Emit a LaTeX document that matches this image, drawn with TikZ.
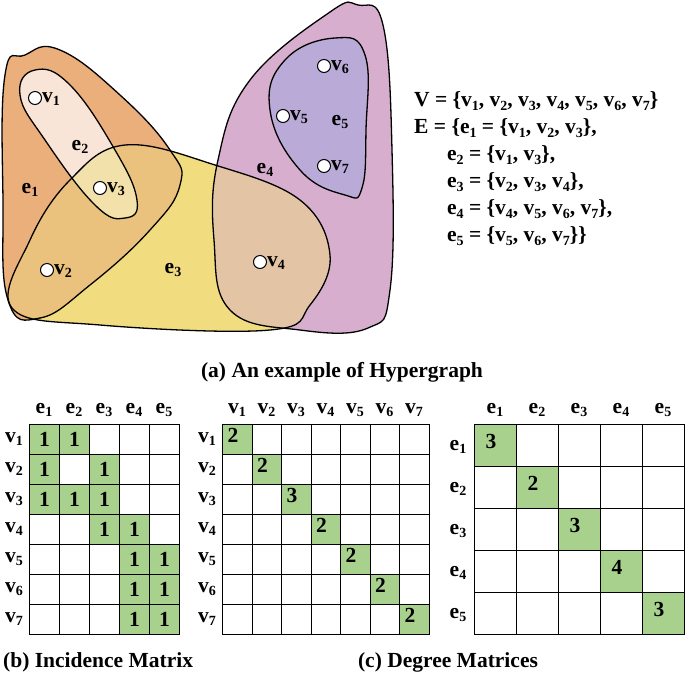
\documentclass[tikz,border=0pt]{standalone}
\usepackage{fontspec}
\setmainfont{Liberation Serif}
\newcommand\lo[1]{\raisebox{-0.35ex}{\fontsize{14}{14}\selectfont #1}}
\definecolor{cgreen}{HTML}{A9D18E}
\definecolor{cone}{HTML}{EBAF7B}
\definecolor{ctwo}{HTML}{F9E5D8}
\definecolor{cthree}{HTML}{F1DC80}
\definecolor{cfour}{HTML}{D8AECF}
\definecolor{cfive}{HTML}{B9AAD8}
\definecolor{conethree}{HTML}{EBC27D}
\definecolor{ctwothree}{HTML}{F2E1AA}
\definecolor{cthreefour}{HTML}{E3C5A6}
\begin{document}
\begin{tikzpicture}[x=1pt,y=-1pt,font=\bfseries\fontsize{21.5}{22}\selectfont,
  vert/.style={circle,draw,fill=white,line width=1pt,inner sep=0pt,minimum size=13pt},
  lbl/.style={inner sep=1pt},
  edgeline/.style={draw,line width=1.3pt},
  cell/.style={draw,line width=1.2pt,minimum width=30pt,minimum height=30pt,inner sep=0pt,anchor=north west},
  bcell/.style={draw,line width=1.2pt,minimum width=42pt,minimum height=42pt,inner sep=0pt,anchor=north west}]
\useasboundingbox (0,0) rectangle (685,673);
\def\eone{plot[smooth cycle,tension=0.75] coordinates{(25,55)(60,50)(120,95)(170,150)(180,185)(150,230)(90,285)(40,318)(8,300)(3,200)(5,75)}}
\def\etwo{plot[smooth cycle,tension=0.75] coordinates{(35,70)(70,85)(115,150)(137,200)(125,218)(95,205)(45,140)(20,95)}}
\def\ethree{plot[smooth cycle,tension=0.65] coordinates{(125,145)(215,165)(300,200)(330,255)(310,305)(270,330)(100,325)(12,308)(30,240)(70,180)}}
\def\efour{plot[smooth cycle,tension=0.7] coordinates{(358,5)(383,25)(392,150)(390,290)(368,328)(300,330)(230,310)(214,240)(218,160)(250,80)(330,12)}}
\def\efive{plot[smooth cycle,tension=0.75] coordinates{(335,38)(365,55)(366,130)(362,188)(345,195)(300,170)(270,110)(285,60)}}
\fill[cfour] \efour;
\fill[cone] \eone;
\fill[cthree] \ethree;
\fill[ctwo] \etwo;
\begin{scope}\clip \eone; \fill[conethree] \ethree;\end{scope}
\begin{scope}\clip \etwo; \fill[ctwothree] \ethree;\end{scope}
\begin{scope}\clip \efour; \fill[cthreefour] \ethree;\end{scope}
\fill[cfive] \efive;
\draw[edgeline] \eone; \draw[edgeline] \etwo; \draw[edgeline] \ethree; \draw[edgeline] \efour; \draw[edgeline] \efive;
\foreach \n/\x/\y in {1/35/98,2/47/270,3/100/188,4/260/262,5/283/116,6/324/66,7/324/166}{
  \node[vert] (v\n) at (\x,\y) {};
  \node[lbl,anchor=west] (lv\n) at (\x+6,\y+1) {v\lo{\n}};
}
\foreach \n/\x/\y in {1/30/190,2/80/147,3/173/270,4/265/170,5/340/122}{
  \node[lbl] (le\n) at (\x,\y) {e\lo{\n}};
}
\node[lbl,anchor=west] (setV) at (413,101) {V = \{v\lo1, v\lo2, v\lo3, v\lo4, v\lo5, v\lo6, v\lo7\}};
\node[lbl,anchor=west] (setE) at (413,128) {E = \{e\lo1 = \{v\lo1, v\lo2, v\lo3\},};
\node[lbl,anchor=west] (setE2) at (446,155) {e\lo2 = \{v\lo1, v\lo3\},};
\node[lbl,anchor=west] (setE3) at (446,182) {e\lo3 = \{v\lo2, v\lo3, v\lo4\},};
\node[lbl,anchor=west] (setE4) at (446,209) {e\lo4 = \{v\lo4, v\lo5, v\lo6, v\lo7\},};
\node[lbl,anchor=west] (setE5) at (446,236) {e\lo5 = \{v\lo5, v\lo6, v\lo7\}\}};
\node (capa) at (342,372) {(a) An example of Hypergraph};
% incidence matrix
\foreach \r/\row in {1/{1,1,0,0,0},2/{1,0,1,0,0},3/{1,1,1,0,0},4/{0,0,1,1,0},5/{0,0,0,1,1},6/{0,0,0,1,1},7/{0,0,0,1,1}}{
  \node[lbl] (irv\r) at (14,409+30*\r) {v\lo{\r}};
  \foreach \v [count=\c] in \row {
    \ifnum\v=1
      \node[cell,fill=cgreen] (i\r\c) at (29+30*\c-30,394+30*\r) {1};
    \else
      \node[cell] (i\r\c) at (29+30*\c-30,394+30*\r) {};
    \fi
  }
}
\foreach \c in {1,...,5}{\node[lbl] (ice\c) at (44+30*\c-30,410) {e\lo{\c}};}
% vertex degree
\foreach \r/\d in {1/2,2/2,3/3,4/2,5/2,6/2,7/2}{
  \node[lbl] (dvr\r) at (207,409+30*\r) {v\lo{\r}};
  \node[lbl] (dvc\r) at (237+29.5*\r-29.5,410) {v\lo{\r}};
  \foreach \c in {1,...,7}{
    \ifnum\c=\r
      \node[cell,minimum width=29.5pt,fill=cgreen] (d\r\c) at (222+29.5*\c-29.5,394+30*\r) {};
      \node[lbl] (dt\r) at (222+29.5*\c-29.5+11,394+30*\r+11) {\d};
    \else
      \node[cell,minimum width=29.5pt] (d\r\c) at (222+29.5*\c-29.5,394+30*\r) {};
    \fi
  }
}
% edge degree
\foreach \r/\d in {1/3,2/2,3/3,4/4,5/3}{
  \node[lbl] (der\r) at (458,424+42*\r-42+23) {e\lo{\r}};
  \node[lbl] (dec\r) at (495+42*\r-42,410) {e\lo{\r}};
  \foreach \c in {1,...,5}{
    \ifnum\c=\r
      \node[bcell,fill=cgreen] (b\r\c) at (474+42*\c-42,424+42*\r-42) {};
      \node[lbl] (bt\r) at (474+42*\c-42+17,424+42*\r-42+17) {\d};
    \else
      \node[bcell] (b\r\c) at (474+42*\c-42,424+42*\r-42) {};
    \fi
  }
}
\node[anchor=west,inner sep=0pt] (capb) at (3,662) {(b) Incidence Matrix};
\node (capc) at (448,662) {(c) Degree Matrices};
\end{tikzpicture}
\end{document}
